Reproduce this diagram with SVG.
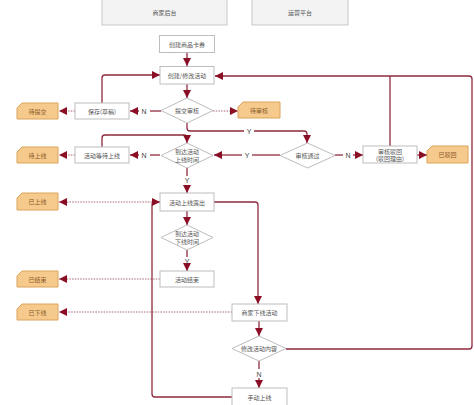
<svg xmlns="http://www.w3.org/2000/svg" width="474" height="405" viewBox="0 0 474 405">
<defs>
<marker id="arr" markerUnits="userSpaceOnUse" markerWidth="9" markerHeight="9" refX="8" refY="4" orient="auto">
<path d="M0,0 L8,4 L0,8 z" fill="#8b0f24"/>
</marker>
<marker id="arrd" markerUnits="userSpaceOnUse" markerWidth="9" markerHeight="9" refX="8" refY="4" orient="auto">
<path d="M0,0 L8,4 L0,8 z" fill="#8b0f24"/>
</marker>
</defs>
<style>
.hdr{fill:#f3f3f3;stroke:#c8c8c8;stroke-width:1}
.box{fill:#ffffff;stroke:#bdbdbd;stroke-width:1}
.dia{fill:#ffffff;stroke:#bdbdbd;stroke-width:1}
.tag{fill:#f6c98c;stroke:#dca45a;stroke-width:1}
.t{font-family:"Noto Sans CJK SC","Liberation Sans",sans-serif;font-size:6px;fill:#555;text-anchor:middle;dominant-baseline:central}
.tt{font-family:"Noto Sans CJK SC","Liberation Sans",sans-serif;font-size:6px;fill:#8a5a28;text-anchor:middle;dominant-baseline:central}
.lbl{font-family:"Liberation Sans",sans-serif;font-size:7px;fill:#444;text-anchor:middle;dominant-baseline:central}
.c{fill:none;stroke:#8e2a3c;stroke-width:1.3}
.d{fill:none;stroke:#a35565;stroke-width:0.9;stroke-dasharray:1.5,1.2}
</style>
<rect width="474" height="405" fill="#ffffff"/>

<g id="connectors">
<path class="c" d="M187,52 V66" marker-end="url(#arr)"/>
<path class="c" d="M187,84 V98" marker-end="url(#arr)"/>
<path class="c" d="M161,111 H150"/>
<path class="c" d="M139,111 H130" marker-end="url(#arr)"/>
<path class="d" d="M75,111 H59" marker-end="url(#arrd)"/>
<path class="c" d="M102,103 V78 Q102,75 105,75 H160" marker-end="url(#arr)"/>
<path class="d" d="M213,111 H238" marker-end="url(#arrd)"/>
<path class="c" d="M187,123 V128 Q187,131 190,131 H244"/>
<path class="c" d="M254,131 H304 Q307,131 307,134 V143" marker-end="url(#arr)"/>
<path class="c" d="M335,155 H343"/>
<path class="c" d="M353,155 H363" marker-end="url(#arr)"/>
<path class="c" d="M417,155 H427" marker-end="url(#arr)"/>
<path class="c" d="M390,146 V76"/>
<path class="c" d="M286,349 H469 Q472,349 472,346 V79 Q472,76 469,76 H215" marker-end="url(#arr)"/>
<path class="c" d="M280,155 H252"/>
<path class="c" d="M242,155 H214" marker-end="url(#arr)"/>
<path class="c" d="M160,155 H150"/>
<path class="c" d="M139,155 H130" marker-end="url(#arr)"/>
<path class="d" d="M75,155 H59" marker-end="url(#arrd)"/>
<path class="c" d="M102,147 V138 Q102,135 105,135 H184 Q187,135 187,138 V143" marker-end="url(#arr)"/>
<path class="c" d="M187,168 V176"/>
<path class="c" d="M187,185 V193" marker-end="url(#arr)"/>
<path class="d" d="M152,202 H59" marker-end="url(#arrd)"/>
<path class="c" d="M214,202 H255 Q258,202 258,205 V304" marker-end="url(#arr)"/>
<path class="c" d="M187,211 V225" marker-end="url(#arr)"/>
<path class="c" d="M187,250 V257"/>
<path class="c" d="M187,265 V271" marker-end="url(#arr)"/>
<path class="d" d="M160,279 H59" marker-end="url(#arrd)"/>
<path class="d" d="M232,312 H59" marker-end="url(#arrd)"/>
<path class="c" d="M259,321 V336" marker-end="url(#arr)"/>
<path class="c" d="M259,361 V369"/>
<path class="c" d="M259,378 V388" marker-end="url(#arr)"/>
<path class="c" d="M232,397 H155 Q152,397 152,394 V205 Q152,202 155,202 H160" marker-end="url(#arr)"/>
<text class="lbl" x="144" y="111">N</text>
<text class="lbl" x="249" y="131">Y</text>
<text class="lbl" x="348" y="155">N</text>
<text class="lbl" x="247" y="155">Y</text>
<text class="lbl" x="144" y="155">N</text>
<text class="lbl" x="187" y="180.5">Y</text>
<text class="lbl" x="187" y="261">Y</text>
<text class="lbl" x="259" y="374">N</text>
</g>

<g id="h1"><rect class="hdr" x="102" y="-1" width="125" height="26"/><text class="t" x="164.5" y="12.5">商家后台</text></g>
<g id="h2"><rect class="hdr" x="252" y="-1" width="96" height="26"/><text class="t" x="300" y="12.5">运营平台</text></g>

<g id="n1"><rect class="box" x="159.5" y="35.5" width="55" height="17"/><text class="t" x="187" y="44">创建商品卡券</text></g>
<g id="n2"><rect class="box" x="160" y="66.5" width="54" height="17.5"/><text class="t" x="187" y="75.5">创建/修改活动</text></g>
<g id="n3"><polygon class="dia" points="187,98 213,110.5 187,123 161,110.5"/><text class="t" x="187" y="110.5">提交审核</text></g>
<g id="n4"><rect class="box" x="75" y="103" width="54" height="16"/><text class="t" x="102" y="111">保存(草稿)</text></g>
<g id="n5"><path class="tag" d="M22,103 H58 V119 H17 V108 Z"/><text class="tt" x="37.5" y="111">待提交</text></g>
<g id="n6"><path class="tag" d="M243,102 H280 V118 H238 V107 Z"/><text class="tt" x="259" y="110">待审核</text></g>
<g id="n7"><polygon class="dia" points="307.5,143 335,155.5 307.5,168 280,155.5"/><text class="t" x="307.5" y="155.5">审核通过</text></g>
<g id="n8"><rect class="box" x="363" y="146" width="54" height="17"/><text class="t" x="390" y="151">审核驳回</text><text class="t" x="390" y="158.5">(驳回理由)</text></g>
<g id="n9"><path class="tag" d="M432,146 H468 V163 H427 V151 Z"/><text class="tt" x="447.5" y="154.5">已驳回</text></g>
<g id="n10"><polygon class="dia" points="187,143 213,155.5 187,168 161,155.5"/><text class="t" x="187" y="151.5">到达活动</text><text class="t" x="187" y="159.5">上线时间</text></g>
<g id="n11"><rect class="box" x="75" y="147" width="54" height="16"/><text class="t" x="102" y="155">活动等待上线</text></g>
<g id="n12"><path class="tag" d="M22,147 H58 V163 H17 V152 Z"/><text class="tt" x="37.5" y="155">待上线</text></g>
<g id="n13"><rect class="box" x="160" y="193" width="54" height="18"/><text class="t" x="187" y="202">活动上线露出</text></g>
<g id="n14"><path class="tag" d="M22,193 H58 V210 H17 V198 Z"/><text class="tt" x="37.5" y="201.5">已上线</text></g>
<g id="n15"><polygon class="dia" points="187,225 213,237.5 187,250 161,237.5"/><text class="t" x="187" y="233.5">到达活动</text><text class="t" x="187" y="241.5">下线时间</text></g>
<g id="n16"><rect class="box" x="160" y="271" width="54" height="16"/><text class="t" x="187" y="279">活动结束</text></g>
<g id="n17"><path class="tag" d="M22,271 H58 V287 H17 V276 Z"/><text class="tt" x="37.5" y="279">已结束</text></g>
<g id="n18"><rect class="box" x="232" y="304" width="55" height="17"/><text class="t" x="259.5" y="312.5">商家下线活动</text></g>
<g id="n19"><path class="tag" d="M22,304 H58 V320 H17 V309 Z"/><text class="tt" x="37.5" y="312">已下线</text></g>
<g id="n20"><polygon class="dia" points="259,336 286,348.5 259,361 232,348.5"/><text class="t" x="259" y="348.5">修改活动内容</text></g>
<g id="n21"><rect class="box" x="232" y="388" width="55" height="18"/><text class="t" x="259.5" y="397">手动上线</text></g>
</svg>
